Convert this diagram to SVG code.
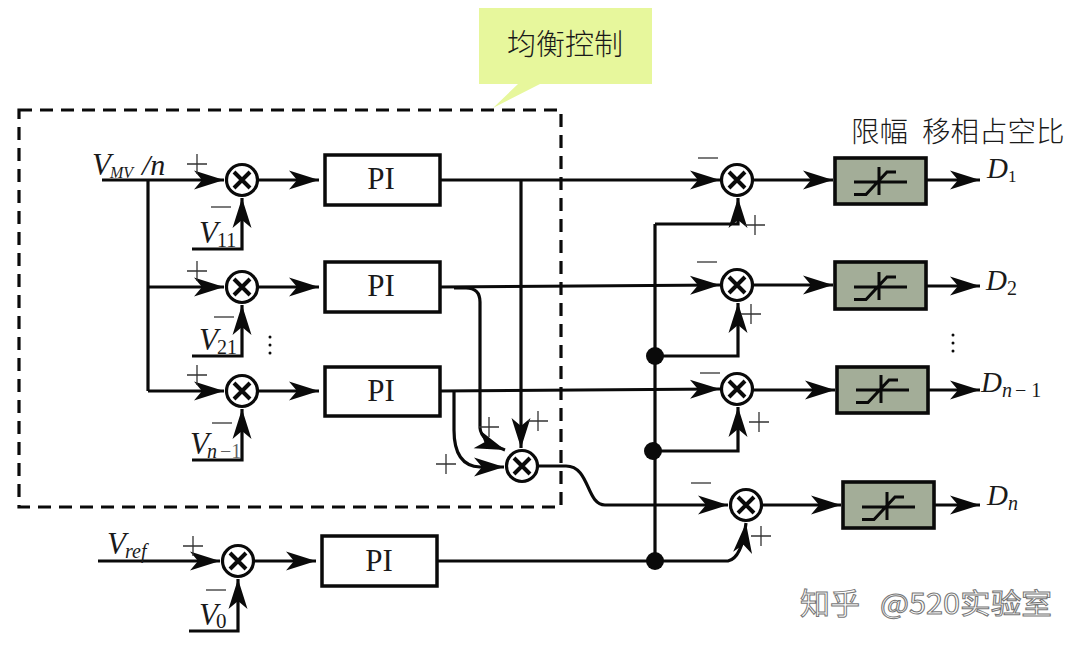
<svg xmlns="http://www.w3.org/2000/svg" width="1080" height="648" viewBox="0 0 1080 648">
<style>
.w{fill:none;stroke:#0a0a0a;stroke-width:3.2}
.a{marker-end:url(#ah)}
.b{fill:#fff;stroke:#0a0a0a;stroke-width:3.5}
.s{fill:#a3ad98;stroke:#0a0a0a;stroke-width:3.6}
.c{fill:#fff;stroke:#0a0a0a;stroke-width:3.2}
.x{fill:none;stroke:#0a0a0a;stroke-width:4}
.g{fill:none;stroke:#0a0a0a;stroke-width:3}
.t{font-family:"Liberation Serif",serif;fill:#1a1a1a}
.i{font-style:italic}
.pi{font-size:31px;text-anchor:middle}
.m{stroke:#333;stroke-width:1.3;fill:none}
.cn{font-family:"Noto Sans CJK SC","Liberation Sans",sans-serif;fill:#1a1a1a;font-weight:300}
.d{fill:#0a0a0a}
</style>
<defs>
<marker id="ah" markerUnits="userSpaceOnUse" markerWidth="32" markerHeight="22" refX="30" refY="11" orient="auto" overflow="visible">
<path d="M0,1.5 L30,11 L0,20.5 L8,11 Z" fill="#0a0a0a"/>
</marker>
<g id="sum"><circle r="15.5" class="c"/><path d="M-8,-8 L8,8 M-8,8 L8,-8" class="x"/></g>
<g id="sat"><path d="M-25,0 H28 M0,-15 V13 M-25,12.5 H-13 L8,-10 H17" class="g"/></g>
<path id="pl" d="M-10,0 H10 M0,-10 V10" class="m"/>
<path id="mn" d="M-10,0 H10" class="m"/>
</defs>
<g id="callout">
<path d="M479,8 H652 V84 H540 L493,108 L518,84 H479 Z" fill="#e7f79c"/>
<text x="565" y="55" class="cn" font-size="29" text-anchor="middle">均衡控制</text>
</g>
<g id="balance-frame"><rect x="19" y="110" width="542" height="397" fill="none" stroke="#0a0a0a" stroke-width="3.2" stroke-dasharray="13 8"/></g>
<g id="connectors">
<path class="w a" d="M102,180 H224"/>
<path class="w" d="M148,180 V391"/>
<path class="w a" d="M148,287 H224"/>
<path class="w a" d="M148,391 H224"/>
<path class="w a" d="M192,249 H242 V198"/>
<path class="w a" d="M192,356 H242 V305"/>
<path class="w a" d="M192,460 H242 V409"/>
<path class="w a" d="M258,180 H319"/>
<path class="w a" d="M258,287 H319"/>
<path class="w a" d="M258,391 H319"/>
<path class="w a" d="M440,180 H720"/>
<path class="w a" d="M440,287 L720,285"/>
<path class="w a" d="M440,391 L720,389"/>
<path class="w a" d="M521,180 V448"/>
<path class="w a" d="M454,288 H466 Q480,288 480,302 V428 Q481,441 505,450"/>
<path class="w a" d="M454,391 V430 Q454,466 480,467 H504"/>
<path class="w a" d="M538,466 H566 C590,466 586,505 605,505 H728"/>
<path class="w a" d="M98,561 H220"/>
<path class="w a" d="M189,631 H238 V579"/>
<path class="w a" d="M254,561 H316"/>
<path class="w a" d="M437,561 H728 Q742,558 746,523"/>
<path class="w" d="M655,561 V224"/>
<path class="w a" d="M655,224 H738 V198"/>
<path class="w a" d="M655,356 H738 V303"/>
<path class="w a" d="M653,451 H738 V407"/>
<circle class="d" cx="655" cy="356" r="9"/>
<circle class="d" cx="653" cy="451" r="9"/>
<circle class="d" cx="655" cy="561" r="9"/>
<path class="w a" d="M753,180 H833"/>
<path class="w a" d="M753,285 H833"/>
<path class="w a" d="M753,390 H835"/>
<path class="w a" d="M762,505 H841"/>
<path class="w a" d="M926,180 H980"/>
<path class="w a" d="M926,286 H980"/>
<path class="w a" d="M928,390 H980"/>
<path class="w a" d="M934,505 H980"/>
</g>
<g id="sum-1"><use href="#sum" x="242" y="180"/></g>
<g id="sum-2"><use href="#sum" x="242" y="287"/></g>
<g id="sum-3"><use href="#sum" x="242" y="391"/></g>
<g id="sum-4"><use href="#sum" x="238" y="561"/></g>
<g id="sum-5"><use href="#sum" x="522" y="466"/></g>
<g id="sum-r1"><use href="#sum" x="737" y="180"/></g>
<g id="sum-r2"><use href="#sum" x="737" y="285"/></g>
<g id="sum-r3"><use href="#sum" x="737" y="389"/></g>
<g id="sum-r4"><use href="#sum" x="746" y="505"/></g>
<g id="pi-1"><rect class="b" x="325" y="155" width="115" height="50"/><text class="t pi" x="381" y="189">PI</text></g>
<g id="pi-2"><rect class="b" x="325" y="262" width="115" height="50"/><text class="t pi" x="381" y="296">PI</text></g>
<g id="pi-3"><rect class="b" x="325" y="367" width="115" height="49"/><text class="t pi" x="381" y="401">PI</text></g>
<g id="pi-4"><rect class="b" x="322" y="536" width="115" height="50"/><text class="t pi" x="379" y="571">PI</text></g>
<g id="sat-1"><rect class="s" x="835" y="158" width="91" height="46"/><use href="#sat" x="879" y="182"/></g>
<g id="sat-2"><rect class="s" x="835" y="262" width="91" height="47"/><use href="#sat" x="879" y="287"/></g>
<g id="sat-3"><rect class="s" x="837" y="367" width="91" height="46"/><use href="#sat" x="881" y="390"/></g>
<g id="sat-4"><rect class="s" x="843" y="482" width="91" height="46"/><use href="#sat" x="887" y="507"/></g>
<g id="signs">
<use href="#pl" x="197" y="164"/><use href="#mn" x="221" y="207"/>
<use href="#pl" x="197" y="271"/><use href="#mn" x="224" y="317"/>
<use href="#pl" x="197" y="375"/><use href="#mn" x="222" y="423"/>
<use href="#pl" x="193" y="546"/><use href="#mn" x="216" y="590"/>
<use href="#pl" x="489" y="427"/><use href="#pl" x="538" y="421"/><use href="#pl" x="446" y="464"/>
<use href="#mn" x="708" y="158"/><use href="#pl" x="755" y="225"/>
<use href="#mn" x="707" y="262"/><use href="#pl" x="751" y="314"/>
<use href="#mn" x="710" y="373"/><use href="#pl" x="759" y="422"/>
<use href="#mn" x="701" y="483"/><use href="#pl" x="761" y="536"/>
</g>
<g id="labels">
<text class="t i" x="92" y="175" font-size="31">V</text><text class="t i" x="110" y="178" font-size="16">MV</text><text class="t i" x="142" y="175" font-size="30">/n</text>
<text class="t i" x="199" y="243" font-size="31">V</text><text class="t" x="217" y="247" font-size="20">11</text>
<text class="t i" x="199" y="350" font-size="31">V</text><text class="t" x="217" y="354" font-size="20">21</text>
<text class="t i" x="190" y="454" font-size="31">V</text><text class="t i" x="207" y="458" font-size="20">n</text><text class="t" x="220" y="458" font-size="20" fill-opacity=".7">−1</text>
<text class="t i" x="107" y="554" font-size="31">V</text><text class="t i" x="125" y="558" font-size="20">ref</text>
<text class="t i" x="199" y="625" font-size="31">V</text><text class="t" x="216" y="628" font-size="21">0</text>
<text class="t i" x="987" y="178" font-size="29">D</text><text class="t" x="1008" y="182" font-size="17">1</text>
<text class="t i" x="986" y="290" font-size="29">D</text><text class="t" x="1007" y="295" font-size="20">2</text>
<text class="t i" x="981" y="392" font-size="29">D</text><text class="t i" x="1002" y="397" font-size="20">n</text><text class="t" x="1015" y="397" font-size="20">− 1</text>
<text class="t i" x="987" y="505" font-size="29">D</text><text class="t i" x="1008" y="510" font-size="20">n</text>
<g class="d"><circle cx="270" cy="337" r="1.5"/><circle cx="270" cy="345" r="1.5"/><circle cx="270" cy="353" r="1.5"/>
<circle cx="953" cy="335" r="1.5"/><circle cx="953" cy="343" r="1.5"/><circle cx="953" cy="351" r="1.5"/></g>
<text class="cn" x="851" y="142" font-size="28.5">限幅</text>
<text class="cn" x="922" y="142" font-size="28.5">移相占空比</text>
</g>
<g id="watermark">
<text x="800" y="614" font-family="'Noto Sans CJK SC',sans-serif" font-size="30" fill="#fff" stroke="#777" stroke-width="1">知乎</text>
<text x="880" y="614" font-family="'Noto Sans CJK SC',sans-serif" font-size="28" fill="#fff" stroke="#777" stroke-width="1" textLength="172" lengthAdjust="spacingAndGlyphs">@520实验室</text>
</g>
</svg>
